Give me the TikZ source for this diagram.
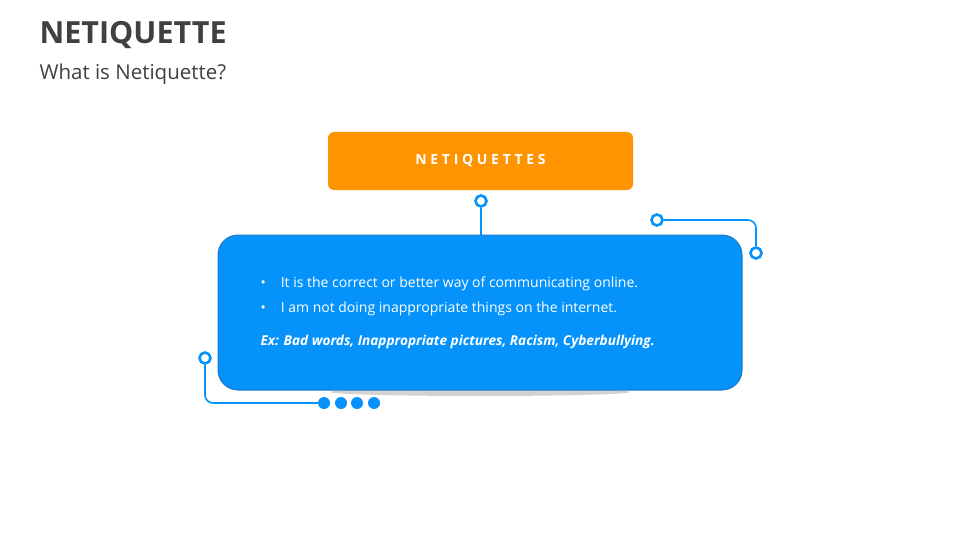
\documentclass[tikz,border=0pt]{standalone}
\usepackage{fontspec}
\setmainfont{Open Sans}
\definecolor{tblue}{HTML}{0593FB}
\definecolor{tbord}{HTML}{1A78C8}
\definecolor{torange}{HTML}{FF9400}
\definecolor{tgray}{HTML}{404040}
\begin{document}
\begin{tikzpicture}[x=1pt,y=-1pt,
  ring/.style={circle,draw=tblue,line width=2.6pt,fill=white,minimum size=11pt,inner sep=0pt},
  dotc/.style={circle,fill=tblue,minimum size=12pt,inner sep=0pt},
  wire/.style={draw=tblue,line width=1.6pt,rounded corners=8pt},
  txt/.style={text=white,anchor=west,font=\fontsize{14}{16}\selectfont}]
\useasboundingbox (0,0) rectangle (960,540);
\node[anchor=west,text=tgray,font=\fontsize{30.5}{34}\selectfont\bfseries] (title) at (36,35) {NETIQUETTE};
\node[anchor=west,text=tgray,font=\fontsize{20.5}{24}\selectfont] (sub) at (36,74) {What is Netiquette?};
\fill[black!35,opacity=0.5] (480,392) ellipse (150 and 4);
\node[draw=tbord,line width=1pt,fill=tblue,rounded corners=20pt,minimum width=524pt,minimum height=155pt,inner sep=0pt] (box) at (480,312.5) {};
\node[fill=torange,rounded corners=6pt,minimum width=305pt,minimum height=58pt,text=white,font=\fontsize{14}{16}\selectfont\bfseries] (head) at (480.5,161) {N\hspace{3.7pt}E\hspace{3.7pt}T\hspace{3.7pt}I\hspace{3.7pt}Q\hspace{3.7pt}U\hspace{3.7pt}E\hspace{3.7pt}T\hspace{3.7pt}T\hspace{3.7pt}E\hspace{3.7pt}S};
\node[ring] (c1) at (481,201) {};
\draw[wire] (c1) -- (box.north -| c1);
\node[ring] (c2) at (657,220) {};
\node[ring] (c3) at (756,253) {};
\draw[wire] (c2.east) -- (756,220) -- (c3.north);
\node[ring] (c4) at (205,358) {};
\node[dotc] (d1) at (324,403) {};
\node[dotc] (d2) at (341,403) {};
\node[dotc] (d3) at (357,403) {};
\node[dotc] (d4) at (374,403) {};
\draw[wire] (c4.south) -- (205,403) -- (d1.west);
\node[txt] (b1) at (257,284) {•\hspace{15pt}It is the correct or better way of communicating online.};
\node[txt] (b2) at (257,309) {•\hspace{15pt}I am not doing inappropriate things on the internet.};
\node[txt,font=\fontsize{13.6}{16}\selectfont\bfseries\itshape] (ex) at (257,342) {Ex: Bad words, Inappropriate pictures, Racism, Cyberbullying.};
\end{tikzpicture}
\end{document}
